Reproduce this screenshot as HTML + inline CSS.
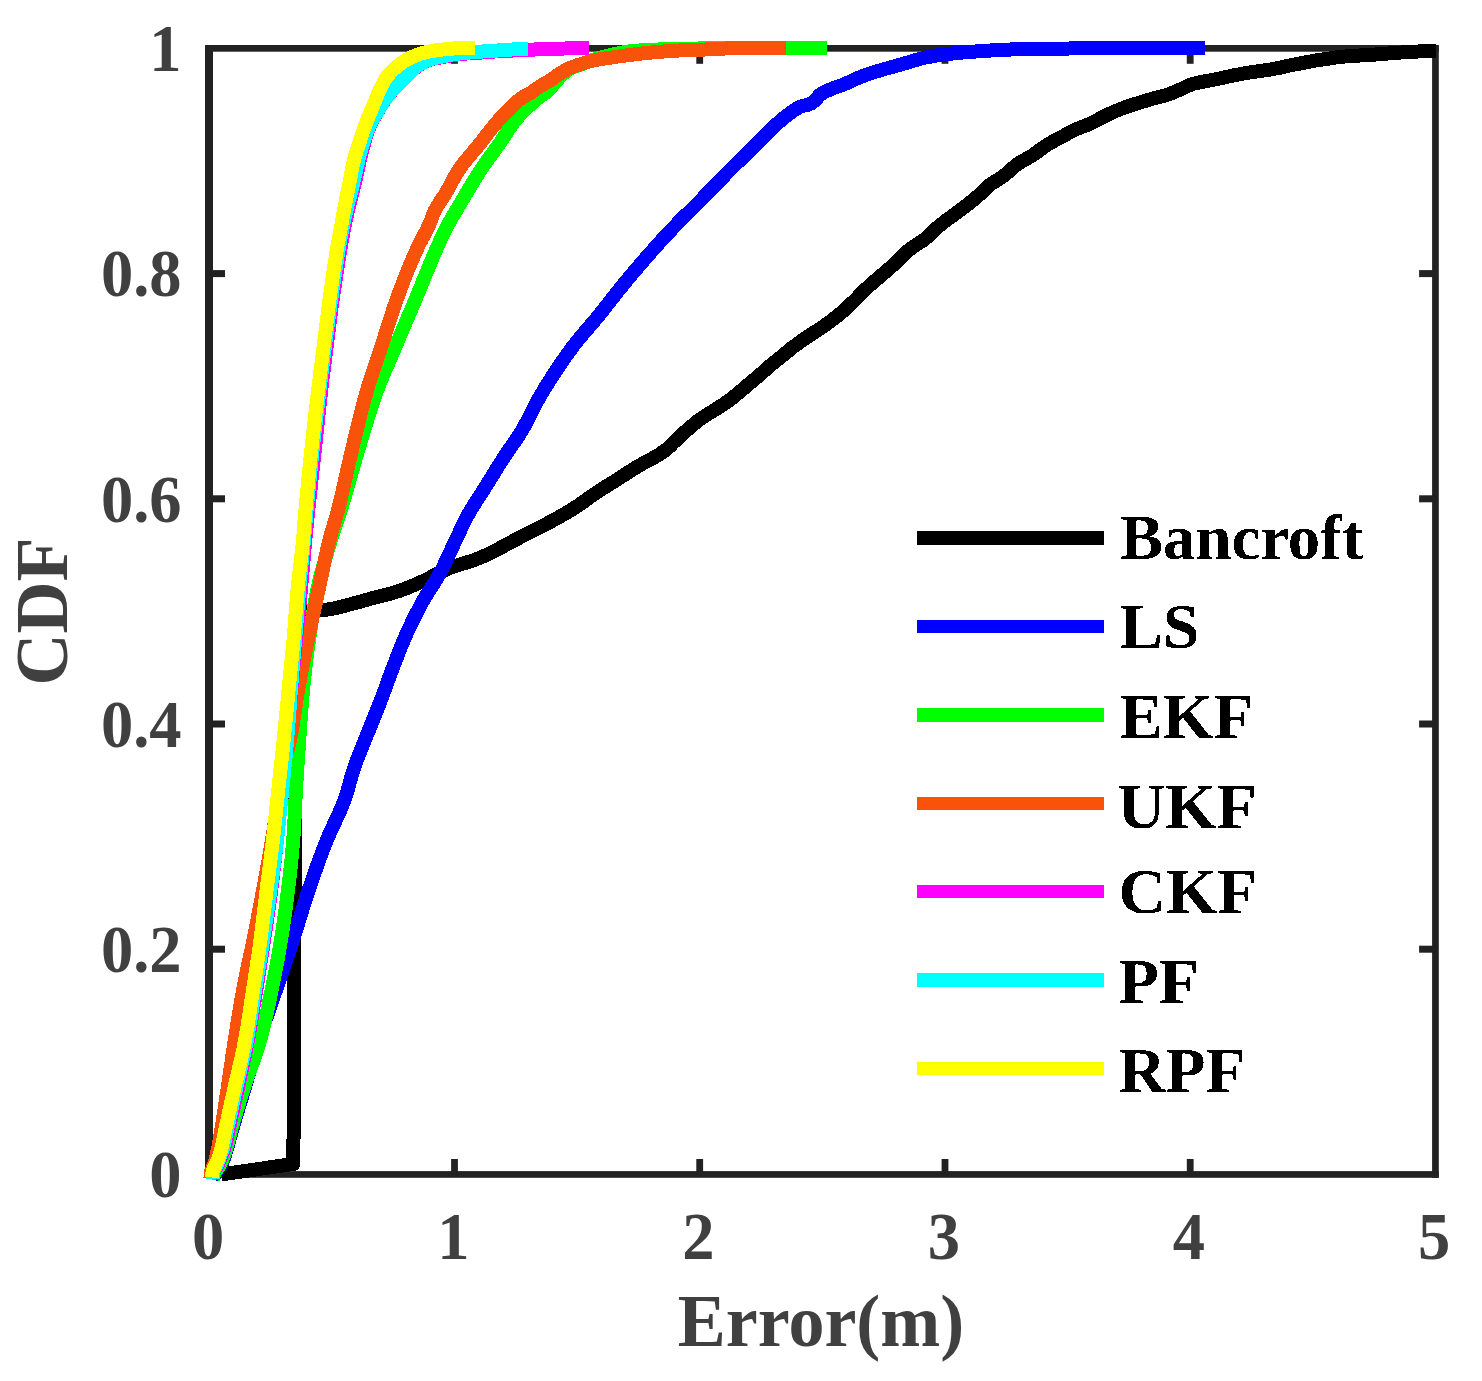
<!DOCTYPE html>
<html lang="en">
<head>
<meta charset="utf-8">
<title>CDF of positioning error</title>
<style>
html,body{margin:0;padding:0;background:#ffffff;}
body{width:1482px;height:1381px;overflow:hidden;font-family:"Liberation Serif","Times New Roman",serif;}
svg{display:block;}
</style>
</head>
<body>
<svg width="1482" height="1381" viewBox="0 0 1482 1381">
<rect width="1482" height="1381" fill="#ffffff"/>
<g id="axes">
<rect x="205" y="45" width="8" height="1132.8" fill="#222222"/>
<rect x="205" y="45" width="1233.8" height="6.7" fill="#222222"/>
<rect x="1432.1" y="45" width="6.7" height="1132.8" fill="#222222"/>
<rect x="205" y="1171.1" width="1233.8" height="6.7" fill="#222222"/>
<rect x="451.1" y="1159.0" width="6.8" height="15.4" fill="#222222"/>
<rect x="451.1" y="48.4" width="6.8" height="15.4" fill="#222222"/>
<rect x="696.3" y="1159.0" width="6.8" height="15.4" fill="#222222"/>
<rect x="696.3" y="48.4" width="6.8" height="15.4" fill="#222222"/>
<rect x="941.6" y="1159.0" width="6.8" height="15.4" fill="#222222"/>
<rect x="941.6" y="48.4" width="6.8" height="15.4" fill="#222222"/>
<rect x="1186.8" y="1159.0" width="6.8" height="15.4" fill="#222222"/>
<rect x="1186.8" y="48.4" width="6.8" height="15.4" fill="#222222"/>
<rect x="209.3" y="945.7" width="15.7" height="7" fill="#222222"/>
<rect x="1419.1" y="945.7" width="16.3" height="7" fill="#222222"/>
<rect x="209.3" y="720.5" width="15.7" height="7" fill="#222222"/>
<rect x="1419.1" y="720.5" width="16.3" height="7" fill="#222222"/>
<rect x="209.3" y="495.3" width="15.7" height="7" fill="#222222"/>
<rect x="1419.1" y="495.3" width="16.3" height="7" fill="#222222"/>
<rect x="209.3" y="270.1" width="15.7" height="7" fill="#222222"/>
<rect x="1419.1" y="270.1" width="16.3" height="7" fill="#222222"/>
</g>
<g id="curves" fill="none" stroke-width="14.0" stroke-linejoin="round" stroke-linecap="butt" shape-rendering="crispEdges">
<path d="M221.0,1174.4 L293.4,1164.0 L294.5,940.0 L295.6,611.5 L299.6,611.5 L303.7,611.3 L307.7,611.1 L311.7,610.9 L315.7,610.6 L319.7,610.3 L323.7,609.9 L327.6,609.5 L331.6,608.8 L335.5,608.1 L339.5,607.2 L343.4,606.2 L347.3,605.1 L351.2,604.1 L355.1,603.0 L359.0,602.0 L362.9,600.9 L366.7,599.8 L370.6,598.6 L374.5,597.6 L378.4,596.6 L382.3,595.7 L386.2,594.7 L390.1,593.7 L393.9,592.6 L397.8,591.4 L401.6,590.1 L405.3,588.7 L409.1,587.2 L412.8,585.6 L416.5,584.0 L420.2,582.4 L423.8,580.8 L427.4,579.0 L431.0,577.1 L434.6,575.2 L438.1,573.4 L441.7,571.6 L445.4,569.9 L449.0,568.3 L452.8,566.9 L456.6,565.6 L460.4,564.4 L464.3,563.2 L468.1,562.0 L472.0,560.8 L475.8,559.4 L479.5,558.0 L483.1,556.4 L486.8,554.7 L490.4,553.0 L494.0,551.2 L497.6,549.4 L501.1,547.5 L504.7,545.6 L508.3,543.7 L511.8,541.7 L515.4,539.8 L518.9,538.0 L522.5,536.1 L526.1,534.3 L529.7,532.5 L533.3,530.6 L536.9,528.8 L540.4,527.0 L544.0,525.1 L547.6,523.3 L551.2,521.4 L554.7,519.5 L558.2,517.6 L561.7,515.6 L565.2,513.6 L568.7,511.6 L572.1,509.5 L575.4,507.3 L578.8,505.1 L582.1,502.8 L585.3,500.5 L588.6,498.1 L591.9,495.8 L595.2,493.5 L598.6,491.2 L601.9,489.1 L605.3,486.9 L608.8,484.8 L612.2,482.7 L615.6,480.6 L619.0,478.4 L622.3,476.2 L625.7,474.0 L629.1,471.8 L632.5,469.7 L635.9,467.6 L639.4,465.6 L642.8,463.5 L646.4,461.6 L649.9,459.7 L653.5,457.8 L657.0,455.9 L660.4,453.7 L663.7,451.4 L666.9,449.0 L669.9,446.3 L672.7,443.4 L675.6,440.6 L678.5,437.9 L681.4,435.1 L684.4,432.4 L687.4,429.8 L690.4,427.1 L693.5,424.5 L696.6,421.9 L699.8,419.5 L703.1,417.2 L706.4,415.0 L709.9,412.9 L713.3,410.8 L716.7,408.7 L720.1,406.5 L723.5,404.3 L726.8,402.0 L730.1,399.7 L733.2,397.2 L736.3,394.7 L739.4,392.1 L742.5,389.5 L745.5,386.9 L748.6,384.3 L751.7,381.7 L754.8,379.1 L757.8,376.5 L760.9,373.9 L763.9,371.2 L766.9,368.5 L769.9,365.9 L773.0,363.3 L776.1,360.8 L779.3,358.3 L782.4,355.8 L785.5,353.3 L788.6,350.7 L791.7,348.1 L794.9,345.7 L798.2,343.3 L801.4,341.0 L804.7,338.7 L808.1,336.4 L811.4,334.2 L814.8,332.0 L818.2,329.9 L821.6,327.7 L824.9,325.4 L828.1,323.0 L831.4,320.6 L834.5,318.2 L837.7,315.7 L840.8,313.1 L843.8,310.5 L846.8,307.8 L849.7,305.0 L852.6,302.3 L855.5,299.5 L858.3,296.6 L861.1,293.7 L864.0,290.8 L866.9,288.0 L869.8,285.3 L872.8,282.7 L875.9,280.1 L878.9,277.4 L882.0,274.8 L885.0,272.2 L888.1,269.6 L891.1,266.9 L894.1,264.3 L897.1,261.6 L900.0,258.8 L902.8,255.9 L905.7,253.0 L908.6,250.3 L911.7,247.8 L915.0,245.6 L918.5,243.4 L921.9,241.2 L925.1,238.9 L928.1,236.3 L931.1,233.5 L933.9,230.7 L936.9,227.9 L939.9,225.3 L943.1,222.8 L946.3,220.4 L949.5,218.0 L952.8,215.7 L956.0,213.3 L959.2,210.9 L962.5,208.5 L965.7,206.0 L968.8,203.6 L972.0,201.0 L975.1,198.5 L978.1,195.9 L981.1,193.2 L983.9,190.3 L986.8,187.4 L989.8,184.9 L993.1,182.6 L996.6,180.5 L1000.0,178.4 L1003.3,176.1 L1006.5,173.6 L1009.5,170.9 L1012.5,168.2 L1015.5,165.6 L1018.7,163.2 L1022.2,161.2 L1025.7,159.2 L1029.2,157.3 L1032.7,155.2 L1036.0,152.9 L1039.2,150.5 L1042.4,148.1 L1045.7,145.8 L1049.1,143.7 L1052.6,141.7 L1056.2,139.8 L1059.7,137.9 L1063.3,136.0 L1066.8,134.1 L1070.3,132.2 L1073.9,130.3 L1077.6,128.7 L1081.3,127.2 L1085.1,125.8 L1088.8,124.3 L1092.4,122.6 L1096.0,120.7 L1099.5,118.8 L1103.1,116.9 L1106.7,115.1 L1110.3,113.4 L1114.0,111.7 L1117.7,110.2 L1121.4,108.7 L1125.2,107.3 L1129.0,106.0 L1132.8,104.7 L1136.6,103.5 L1140.5,102.4 L1144.3,101.2 L1148.2,100.0 L1152.0,98.8 L1155.9,97.8 L1159.8,96.8 L1163.7,95.8 L1167.5,94.6 L1171.3,93.3 L1175.0,91.7 L1178.7,90.1 L1182.4,88.6 L1186.1,86.8 L1189.8,85.1 L1193.5,83.7 L1197.4,82.8 L1201.3,82.0 L1205.3,81.3 L1209.2,80.6 L1213.2,79.8 L1217.1,79.0 L1221.1,78.2 L1225.0,77.3 L1228.9,76.4 L1232.8,75.5 L1236.8,74.8 L1240.7,74.0 L1244.7,73.3 L1248.7,72.7 L1252.6,72.1 L1256.6,71.5 L1260.6,70.9 L1264.6,70.3 L1268.5,69.8 L1272.5,69.1 L1276.5,68.4 L1280.4,67.6 L1284.3,66.7 L1288.2,65.8 L1292.2,65.0 L1296.1,64.2 L1300.1,63.5 L1304.0,62.7 L1308.0,61.9 L1311.9,61.2 L1315.9,60.5 L1319.9,59.9 L1323.8,59.3 L1327.8,58.8 L1331.8,58.2 L1335.8,57.5 L1339.7,57.0 L1343.7,56.6 L1347.7,56.3 L1351.7,56.0 L1355.8,55.7 L1359.8,55.5 L1363.8,55.3 L1367.8,55.0 L1371.8,54.7 L1375.8,54.5 L1379.8,54.2 L1383.8,53.9 L1387.9,53.5 L1391.9,53.2 L1395.9,52.9 L1399.9,52.6 L1403.9,52.3 L1407.9,52.1 L1411.9,51.8 L1415.9,51.6 L1419.9,51.4 L1423.9,51.2 L1428.0,51.0 L1432.0,50.9 L1436.0,50.7" stroke="#000000" stroke-linejoin="round"/>
<path d="M213.2,1179.8 L214.1,1175.9 L215.8,1172.3 L218.3,1169.1 L220.7,1165.9 L222.4,1162.3 L223.8,1158.5 L225.1,1154.7 L226.3,1150.9 L227.5,1147.0 L228.6,1143.2 L229.6,1139.3 L230.6,1135.4 L231.7,1131.5 L232.8,1127.7 L233.9,1123.8 L235.0,1120.0 L236.2,1116.1 L237.3,1112.3 L238.5,1108.5 L239.7,1104.6 L240.8,1100.8 L242.0,1097.0 L243.2,1093.1 L244.3,1089.3 L245.5,1085.4 L246.6,1081.6 L247.7,1077.7 L248.8,1073.9 L250.0,1070.0 L251.1,1066.2 L252.2,1062.3 L253.3,1058.5 L254.5,1054.7 L255.6,1050.8 L256.8,1047.0 L258.0,1043.2 L259.2,1039.3 L260.4,1035.5 L261.7,1031.7 L263.0,1027.9 L264.2,1024.1 L265.5,1020.3 L266.8,1016.5 L268.1,1012.7 L269.5,1008.9 L270.8,1005.2 L272.1,1001.4 L273.4,997.6 L274.7,993.8 L276.0,990.0 L277.3,986.2 L278.6,982.4 L279.9,978.6 L281.2,974.8 L282.5,971.0 L283.8,967.2 L285.1,963.4 L286.4,959.6 L287.7,955.8 L289.0,952.0 L290.3,948.2 L291.5,944.4 L292.8,940.6 L294.0,936.8 L295.2,933.0 L296.4,929.2 L297.6,925.3 L298.8,921.5 L300.0,917.7 L301.1,913.8 L302.3,910.0 L303.5,906.2 L304.7,902.3 L305.9,898.5 L307.1,894.7 L308.4,890.9 L309.7,887.1 L311.0,883.3 L312.3,879.5 L313.6,875.7 L314.9,871.9 L316.3,868.2 L317.6,864.4 L319.0,860.6 L320.4,856.9 L321.8,853.1 L323.2,849.4 L324.7,845.6 L326.1,841.9 L327.6,838.2 L329.2,834.5 L330.9,830.8 L332.5,827.2 L334.3,823.5 L336.0,819.9 L337.7,816.3 L339.3,812.6 L341.0,808.9 L342.5,805.2 L343.9,801.5 L345.3,797.8 L346.5,794.0 L347.7,790.1 L348.8,786.3 L349.8,782.4 L350.9,778.5 L352.0,774.7 L353.2,770.8 L354.4,767.0 L355.8,763.2 L357.1,759.5 L358.6,755.7 L360.1,752.0 L361.6,748.3 L363.1,744.6 L364.6,740.8 L366.1,737.1 L367.6,733.4 L369.1,729.7 L370.6,726.0 L372.1,722.2 L373.6,718.5 L375.1,714.8 L376.6,711.1 L378.1,707.4 L379.6,703.6 L381.0,699.9 L382.4,696.1 L383.8,692.4 L385.2,688.6 L386.6,684.9 L387.9,681.1 L389.3,677.3 L390.7,673.5 L392.1,669.8 L393.5,666.0 L395.0,662.3 L396.4,658.6 L397.9,654.8 L399.3,651.1 L400.8,647.4 L402.3,643.7 L403.9,640.0 L405.5,636.3 L407.1,632.6 L408.8,629.0 L410.5,625.3 L412.2,621.7 L414.0,618.1 L415.8,614.5 L417.6,611.0 L419.5,607.4 L421.4,603.9 L423.3,600.4 L425.3,596.9 L427.4,593.5 L429.6,590.1 L431.7,586.7 L433.9,583.3 L436.0,579.9 L438.1,576.5 L440.0,573.0 L441.9,569.5 L443.7,565.9 L445.4,562.3 L447.1,558.6 L448.8,555.0 L450.5,551.3 L452.2,547.7 L453.9,544.1 L455.6,540.5 L457.3,536.8 L459.0,533.2 L460.7,529.5 L462.4,525.9 L464.1,522.3 L465.9,518.7 L467.8,515.2 L469.8,511.7 L471.8,508.3 L473.9,504.9 L476.1,501.5 L478.3,498.1 L480.5,494.7 L482.7,491.4 L484.8,488.0 L486.9,484.6 L489.1,481.2 L491.2,477.8 L493.3,474.3 L495.4,470.9 L497.5,467.5 L499.6,464.1 L501.8,460.7 L503.9,457.4 L506.2,454.0 L508.4,450.7 L510.7,447.4 L513.0,444.1 L515.3,440.8 L517.5,437.5 L519.7,434.1 L521.8,430.7 L523.8,427.3 L525.7,423.7 L527.6,420.2 L529.4,416.6 L531.2,413.0 L533.0,409.4 L534.8,405.8 L536.7,402.3 L538.6,398.8 L540.6,395.3 L542.7,391.9 L544.7,388.4 L546.8,385.0 L549.0,381.6 L551.1,378.2 L553.3,374.9 L555.5,371.5 L557.7,368.2 L560.0,364.8 L562.2,361.5 L564.5,358.2 L566.8,354.9 L569.2,351.7 L571.5,348.5 L573.9,345.3 L576.4,342.1 L578.9,339.0 L581.5,335.9 L584.1,332.8 L586.7,329.8 L589.3,326.8 L591.9,323.7 L594.5,320.7 L597.1,317.6 L599.6,314.5 L602.1,311.4 L604.6,308.2 L607.1,305.0 L609.6,301.9 L612.0,298.7 L614.5,295.6 L617.0,292.4 L619.5,289.3 L622.0,286.2 L624.6,283.1 L627.1,280.0 L629.7,276.9 L632.3,273.8 L634.9,270.8 L637.5,267.7 L640.1,264.7 L642.7,261.7 L645.3,258.6 L648.0,255.6 L650.6,252.6 L653.3,249.6 L656.0,246.6 L658.6,243.6 L661.3,240.6 L664.0,237.7 L666.7,234.7 L669.5,231.8 L672.2,228.9 L675.0,226.0 L677.8,223.1 L680.6,220.3 L683.5,217.4 L686.3,214.6 L689.2,211.8 L692.0,209.0 L694.9,206.2 L697.7,203.3 L700.5,200.5 L703.3,197.6 L706.1,194.7 L708.9,191.9 L711.7,189.0 L714.5,186.1 L717.2,183.2 L720.0,180.3 L722.8,177.4 L725.6,174.5 L728.4,171.7 L731.3,168.8 L734.1,166.0 L736.9,163.2 L739.8,160.4 L742.7,157.6 L745.5,154.8 L748.4,152.0 L751.3,149.2 L754.2,146.4 L757.1,143.6 L759.9,140.8 L762.8,138.0 L765.6,135.1 L768.5,132.3 L771.3,129.4 L774.2,126.6 L777.1,123.8 L780.1,121.2 L783.1,118.6 L786.2,116.1 L789.4,113.7 L792.7,111.2 L796.1,109.0 L799.6,107.1 L803.3,105.7 L807.3,104.9 L811.0,103.6 L814.1,101.1 L817.0,98.2 L819.6,95.1 L822.8,92.9 L826.5,91.1 L830.2,89.5 L833.9,88.0 L837.7,86.7 L841.5,85.3 L845.2,83.8 L848.9,82.2 L852.5,80.5 L856.1,78.8 L859.8,77.2 L863.6,75.8 L867.3,74.4 L871.1,73.2 L875.0,71.9 L878.8,70.8 L882.6,69.6 L886.5,68.5 L890.4,67.5 L894.2,66.4 L898.1,65.3 L901.9,64.2 L905.8,63.1 L909.6,61.9 L913.5,60.7 L917.3,59.6 L921.2,58.6 L925.1,57.6 L929.0,56.9 L933.0,56.2 L936.9,55.5 L940.9,54.9 L944.9,54.4 L948.9,53.9 L952.8,53.5 L956.8,53.1 L960.8,52.7 L964.8,52.3 L968.8,52.0 L972.8,51.7 L976.8,51.4 L980.8,51.1 L984.8,50.9 L988.8,50.6 L992.8,50.4 L996.8,50.2 L1000.8,49.9 L1004.8,49.7 L1008.8,49.6 L1012.8,49.4 L1016.9,49.3 L1020.9,49.1 L1024.9,49.1 L1028.9,49.0 L1032.9,48.9 L1036.9,48.9 L1040.9,48.8 L1044.9,48.7 L1048.9,48.7 L1052.9,48.7 L1056.9,48.6 L1061.0,48.6 L1065.0,48.5 L1069.0,48.5 L1073.0,48.4 L1077.0,48.4 L1081.0,48.3 L1085.0,48.3 L1089.0,48.2 L1093.0,48.2 L1097.0,48.1 L1101.0,48.1 L1105.1,48.0 L1109.1,48.0 L1113.1,48.0 L1117.1,47.9 L1121.1,47.9 L1125.1,47.9 L1129.1,47.9 L1133.1,47.9 L1137.1,47.9 L1141.1,47.9 L1145.2,47.9 L1149.2,47.9 L1153.2,47.9 L1157.2,47.9 L1161.2,47.9 L1165.2,47.9 L1169.2,47.9 L1173.2,47.9 L1177.2,47.9 L1181.2,47.9 L1185.3,47.9 L1189.3,47.9 L1193.3,47.9 L1197.3,47.9 L1201.3,47.9 L1205.3,47.9" stroke="#0000ff"/>
<path d="M212.8,1179.6 L213.5,1175.6 L214.9,1172.0 L217.4,1168.7 L219.6,1165.3 L221.3,1161.7 L222.9,1158.0 L224.3,1154.2 L225.6,1150.4 L226.7,1146.6 L227.8,1142.7 L228.8,1138.8 L229.8,1134.9 L230.8,1131.0 L231.9,1127.1 L233.0,1123.3 L234.1,1119.4 L235.3,1115.6 L236.4,1111.7 L237.6,1107.9 L238.7,1104.0 L239.9,1100.2 L241.1,1096.3 L242.3,1092.5 L243.5,1088.7 L244.8,1084.9 L246.1,1081.1 L247.5,1077.3 L248.8,1073.5 L250.2,1069.7 L251.6,1065.9 L253.0,1062.1 L254.3,1058.4 L255.7,1054.6 L256.9,1050.8 L258.2,1046.9 L259.3,1043.1 L260.4,1039.3 L261.4,1035.4 L262.4,1031.5 L263.4,1027.6 L264.3,1023.7 L265.2,1019.8 L266.1,1015.9 L267.0,1011.9 L267.8,1008.0 L268.7,1004.1 L269.5,1000.1 L270.3,996.2 L271.1,992.3 L271.9,988.3 L272.8,984.4 L273.5,980.4 L274.3,976.5 L275.1,972.6 L275.9,968.6 L276.6,964.7 L277.4,960.7 L278.1,956.8 L278.8,952.8 L279.5,948.9 L280.2,944.9 L280.8,940.9 L281.5,937.0 L282.1,933.0 L282.7,929.0 L283.3,925.1 L283.9,921.1 L284.5,917.1 L285.0,913.1 L285.6,909.1 L286.1,905.2 L286.6,901.2 L287.1,897.2 L287.6,893.2 L288.1,889.2 L288.6,885.2 L289.0,881.2 L289.5,877.3 L290.0,873.3 L290.4,869.3 L290.9,865.3 L291.3,861.3 L291.7,857.3 L292.1,853.3 L292.4,849.3 L292.8,845.3 L293.1,841.3 L293.4,837.3 L293.7,833.3 L293.9,829.3 L294.1,825.2 L294.4,821.2 L294.6,817.2 L294.8,813.2 L295.0,809.2 L295.2,805.2 L295.4,801.2 L295.6,797.2 L295.8,793.1 L296.1,789.1 L296.3,785.1 L296.5,781.1 L296.8,777.1 L297.0,773.1 L297.3,769.1 L297.5,765.1 L297.8,761.1 L298.1,757.1 L298.3,753.0 L298.6,749.0 L298.9,745.0 L299.1,741.0 L299.4,737.0 L299.7,733.0 L300.0,729.0 L300.2,725.0 L300.5,721.0 L300.8,717.0 L301.1,713.0 L301.4,709.0 L301.7,705.0 L302.0,701.0 L302.4,696.9 L302.7,692.9 L303.1,689.0 L303.5,685.0 L303.9,681.0 L304.3,677.0 L304.8,673.0 L305.2,669.0 L305.7,665.0 L306.2,661.0 L306.7,657.0 L307.2,653.0 L307.8,649.0 L308.3,645.1 L308.8,641.1 L309.4,637.1 L310.0,633.1 L310.5,629.2 L311.1,625.2 L311.7,621.2 L312.4,617.2 L313.0,613.2 L313.7,609.3 L314.4,605.3 L315.1,601.4 L315.8,597.4 L316.6,593.5 L317.4,589.6 L318.2,585.7 L319.1,581.7 L320.1,577.8 L321.1,574.0 L322.1,570.1 L323.2,566.2 L324.3,562.3 L325.4,558.4 L326.5,554.6 L327.7,550.7 L328.8,546.9 L330.0,543.0 L331.1,539.2 L332.3,535.4 L333.6,531.5 L334.9,527.7 L336.2,523.9 L337.5,520.1 L338.8,516.3 L340.0,512.5 L341.2,508.7 L342.4,504.8 L343.5,501.0 L344.7,497.1 L345.8,493.3 L346.9,489.4 L348.0,485.5 L349.1,481.7 L350.2,477.8 L351.3,473.9 L352.4,470.1 L353.5,466.2 L354.6,462.3 L355.7,458.5 L356.8,454.6 L358.0,450.8 L359.1,446.9 L360.3,443.1 L361.4,439.2 L362.6,435.4 L363.8,431.5 L364.9,427.7 L366.1,423.8 L367.3,420.0 L368.5,416.2 L369.7,412.3 L370.9,408.5 L372.2,404.7 L373.5,400.9 L374.8,397.1 L376.1,393.3 L377.5,389.5 L378.9,385.8 L380.3,382.0 L381.9,378.3 L383.4,374.6 L385.0,370.9 L386.6,367.2 L388.2,363.5 L389.8,359.8 L391.4,356.2 L393.0,352.5 L394.5,348.8 L396.1,345.1 L397.7,341.4 L399.2,337.7 L400.8,334.0 L402.4,330.3 L404.0,326.6 L405.6,322.9 L407.1,319.2 L408.7,315.5 L410.3,311.8 L411.9,308.1 L413.4,304.4 L415.0,300.7 L416.5,297.0 L418.1,293.3 L419.6,289.6 L421.1,285.9 L422.6,282.1 L424.1,278.4 L425.6,274.7 L427.2,271.0 L428.7,267.2 L430.2,263.5 L431.8,259.8 L433.3,256.1 L434.9,252.4 L436.5,248.8 L438.2,245.1 L439.8,241.4 L441.5,237.8 L443.2,234.1 L445.0,230.5 L446.8,227.0 L448.7,223.4 L450.7,219.9 L452.7,216.5 L454.7,213.0 L456.8,209.5 L458.8,206.1 L460.9,202.6 L462.9,199.2 L465.0,195.7 L467.0,192.2 L469.0,188.8 L471.1,185.3 L473.2,181.9 L475.3,178.5 L477.4,175.1 L479.6,171.7 L481.8,168.3 L484.1,165.0 L486.4,161.7 L488.7,158.5 L491.1,155.2 L493.5,152.0 L495.8,148.7 L498.2,145.4 L500.5,142.2 L502.7,138.8 L504.9,135.4 L507.1,132.0 L509.3,128.7 L511.6,125.4 L513.9,122.1 L516.4,119.1 L519.1,116.0 L521.8,113.1 L524.7,110.2 L527.6,107.4 L530.5,104.7 L533.5,102.0 L536.6,99.4 L539.7,96.9 L543.0,94.6 L546.3,92.2 L549.2,89.5 L551.9,86.5 L554.4,83.4 L557.0,80.3 L559.7,77.3 L562.5,74.5 L565.6,71.8 L568.8,69.4 L572.3,67.5 L576.1,66.1 L579.9,64.8 L583.7,63.4 L587.4,62.0 L591.2,60.6 L595.0,59.3 L598.8,58.1 L602.7,57.0 L606.6,56.0 L610.5,55.0 L614.4,54.1 L618.3,53.3 L622.3,52.5 L626.3,51.9 L630.2,51.3 L634.2,50.9 L638.2,50.6 L642.2,50.3 L646.2,50.1 L650.3,49.9 L654.3,49.7 L658.3,49.5 L662.3,49.4 L666.3,49.3 L670.3,49.1 L674.4,49.0 L678.4,48.9 L682.4,48.8 L686.4,48.7 L690.4,48.6 L694.4,48.5 L698.5,48.5 L702.5,48.4 L706.5,48.3 L710.5,48.2 L714.5,48.2 L718.5,48.1 L722.6,48.1 L726.6,48.0 L730.6,48.0 L734.6,48.0 L738.6,48.0 L742.6,47.9 L746.7,47.9 L750.7,47.9 L754.7,47.9 L758.7,47.9 L762.7,47.9 L766.7,47.9 L770.8,47.9 L774.8,47.9 L778.8,47.9 L782.8,47.9 L786.8,47.9 L790.8,47.9 L794.9,47.9 L798.9,47.9 L802.9,47.9 L806.9,47.9 L810.9,47.9 L814.9,47.9 L819.0,47.9 L823.0,47.9 L827.0,47.9" stroke="#00ff00"/>
<path d="M210.4,1178.6 L210.7,1174.6 L211.4,1170.7 L213.0,1166.9 L214.5,1163.2 L215.6,1159.3 L216.6,1155.4 L217.4,1151.5 L218.3,1147.6 L219.0,1143.6 L219.7,1139.7 L220.4,1135.7 L221.0,1131.7 L221.7,1127.8 L222.3,1123.8 L222.9,1119.8 L223.5,1115.9 L224.1,1111.9 L224.7,1107.9 L225.3,1104.0 L225.9,1100.0 L226.5,1096.0 L227.1,1092.0 L227.7,1088.1 L228.3,1084.1 L228.9,1080.1 L229.4,1076.1 L230.0,1072.2 L230.6,1068.2 L231.2,1064.2 L231.8,1060.2 L232.3,1056.3 L232.9,1052.3 L233.5,1048.3 L234.1,1044.3 L234.7,1040.4 L235.4,1036.4 L236.0,1032.4 L236.6,1028.5 L237.2,1024.5 L237.9,1020.5 L238.5,1016.6 L239.2,1012.6 L239.8,1008.6 L240.5,1004.7 L241.2,1000.7 L241.9,996.7 L242.6,992.8 L243.3,988.8 L244.1,984.9 L244.8,981.0 L245.6,977.0 L246.4,973.1 L247.3,969.1 L248.1,965.2 L248.9,961.3 L249.8,957.4 L250.6,953.4 L251.5,949.5 L252.3,945.6 L253.1,941.6 L253.9,937.7 L254.6,933.7 L255.4,929.8 L256.2,925.9 L257.0,921.9 L257.8,918.0 L258.5,914.0 L259.3,910.1 L260.1,906.1 L260.8,902.2 L261.6,898.3 L262.3,894.3 L263.0,890.4 L263.8,886.4 L264.5,882.5 L265.2,878.5 L265.9,874.5 L266.7,870.6 L267.4,866.6 L268.1,862.7 L268.8,858.7 L269.5,854.8 L270.2,850.8 L270.8,846.9 L271.5,842.9 L272.2,838.9 L272.8,835.0 L273.4,831.0 L274.0,827.0 L274.6,823.0 L275.2,819.0 L275.7,815.1 L276.3,811.1 L276.8,807.1 L277.4,803.1 L277.9,799.1 L278.5,795.1 L279.1,791.2 L279.7,787.2 L280.3,783.2 L281.0,779.3 L281.7,775.3 L282.4,771.4 L283.1,767.4 L283.9,763.5 L284.9,759.6 L285.9,755.7 L287.0,751.9 L288.1,748.0 L289.1,744.1 L290.0,740.2 L290.7,736.2 L291.5,732.3 L292.1,728.3 L292.8,724.4 L293.4,720.4 L294.0,716.4 L294.6,712.4 L295.2,708.5 L295.8,704.5 L296.4,700.5 L297.0,696.5 L297.7,692.6 L298.3,688.6 L299.1,684.7 L299.8,680.7 L300.5,676.8 L301.3,672.8 L302.0,668.9 L302.8,664.9 L303.6,661.0 L304.4,657.0 L305.1,653.1 L305.9,649.2 L306.7,645.2 L307.5,641.3 L308.3,637.3 L309.2,633.4 L310.0,629.5 L310.8,625.6 L311.6,621.6 L312.5,617.7 L313.3,613.8 L314.2,609.8 L315.0,605.9 L315.9,602.0 L316.7,598.1 L317.6,594.1 L318.5,590.2 L319.3,586.3 L320.1,582.3 L321.0,578.4 L321.8,574.5 L322.6,570.5 L323.4,566.6 L324.3,562.7 L325.1,558.8 L326.0,554.8 L326.9,550.9 L327.8,547.0 L328.7,543.1 L329.7,539.2 L330.7,535.3 L331.8,531.5 L332.9,527.6 L334.1,523.7 L335.2,519.9 L336.4,516.0 L337.4,512.2 L338.4,508.3 L339.4,504.4 L340.4,500.5 L341.3,496.6 L342.2,492.7 L343.1,488.7 L344.0,484.8 L344.9,480.9 L345.7,477.0 L346.6,473.1 L347.5,469.1 L348.4,465.2 L349.3,461.3 L350.2,457.4 L351.1,453.5 L352.0,449.6 L353.0,445.6 L353.9,441.7 L354.8,437.8 L355.8,433.9 L356.7,430.0 L357.7,426.1 L358.6,422.2 L359.6,418.3 L360.5,414.4 L361.5,410.5 L362.5,406.6 L363.6,402.7 L364.6,398.8 L365.7,395.0 L366.8,391.1 L367.9,387.3 L369.1,383.4 L370.3,379.6 L371.6,375.8 L372.8,372.0 L374.1,368.2 L375.4,364.4 L376.7,360.6 L378.0,356.8 L379.3,353.0 L380.6,349.1 L381.8,345.3 L383.0,341.5 L384.2,337.7 L385.4,333.8 L386.6,330.0 L387.8,326.1 L389.1,322.3 L390.3,318.5 L391.5,314.7 L392.8,310.8 L394.0,307.0 L395.4,303.2 L396.7,299.5 L398.1,295.7 L399.4,291.9 L400.9,288.2 L402.3,284.4 L403.7,280.6 L405.2,276.9 L406.7,273.2 L408.2,269.4 L409.7,265.7 L411.3,262.0 L412.9,258.3 L414.5,254.6 L416.1,251.0 L417.7,247.3 L419.5,243.7 L421.4,240.1 L423.2,236.5 L425.1,233.0 L426.9,229.4 L428.7,225.8 L430.3,222.1 L431.8,218.4 L433.0,214.6 L434.6,210.9 L436.5,207.4 L438.6,204.0 L440.8,200.6 L443.1,197.3 L445.3,193.9 L447.3,190.4 L449.3,186.9 L451.2,183.3 L453.1,179.7 L455.0,176.2 L457.0,172.8 L459.2,169.4 L461.4,166.1 L463.8,162.9 L466.4,159.8 L469.0,156.7 L471.6,153.6 L474.2,150.6 L476.8,147.5 L479.3,144.4 L481.8,141.2 L484.3,138.0 L486.7,134.8 L489.2,131.6 L491.7,128.5 L494.2,125.4 L496.8,122.3 L499.4,119.3 L502.2,116.4 L505.0,113.5 L507.9,110.7 L510.7,107.9 L513.6,105.0 L516.5,102.2 L519.5,99.5 L522.7,97.2 L526.3,95.3 L529.8,93.4 L533.2,91.2 L536.4,88.8 L539.7,86.5 L543.1,84.4 L546.7,82.5 L550.1,80.4 L553.4,78.2 L556.7,75.8 L560.0,73.5 L563.4,71.4 L566.9,69.4 L570.5,67.7 L574.3,66.3 L578.1,65.0 L581.9,63.8 L585.8,62.5 L589.6,61.4 L593.5,60.5 L597.5,59.7 L601.4,59.0 L605.4,58.4 L609.4,57.8 L613.3,57.2 L617.3,56.6 L621.3,56.1 L625.3,55.5 L629.3,55.0 L633.3,54.5 L637.2,54.1 L641.2,53.6 L645.2,53.1 L649.2,52.7 L653.2,52.4 L657.2,52.0 L661.2,51.7 L665.2,51.4 L669.3,51.1 L673.3,50.9 L677.3,50.6 L681.3,50.4 L685.3,50.3 L689.3,50.1 L693.3,49.9 L697.3,49.8 L701.4,49.6 L705.4,49.5 L709.4,49.3 L713.4,49.1 L717.4,48.9 L721.4,48.7 L725.4,48.5 L729.5,48.4 L733.5,48.3 L737.5,48.2 L741.5,48.2 L745.5,48.1 L749.5,48.1 L753.6,48.0 L757.6,48.0 L761.6,48.0 L765.6,48.0 L769.6,47.9 L773.6,47.9 L777.7,47.9 L781.7,47.9 L785.7,47.9" stroke="#f9520b"/>
<path d="M212.7,1179.2 L213.1,1175.1 L214.1,1171.4 L216.1,1167.8 L217.9,1164.2 L219.5,1160.5 L221.1,1156.8 L222.6,1153.1 L223.9,1149.3 L225.1,1145.5 L226.1,1141.6 L227.0,1137.7 L227.8,1133.7 L228.6,1129.8 L229.5,1125.8 L230.4,1121.9 L231.2,1118.0 L232.1,1114.1 L233.0,1110.2 L233.9,1106.2 L234.7,1102.3 L235.6,1098.4 L236.5,1094.5 L237.4,1090.6 L238.2,1086.6 L239.1,1082.7 L239.9,1078.8 L240.7,1074.8 L241.6,1070.9 L242.4,1067.0 L243.2,1063.0 L244.1,1059.1 L244.9,1055.2 L245.8,1051.3 L246.6,1047.3 L247.3,1043.4 L248.1,1039.4 L248.8,1035.5 L249.5,1031.5 L250.1,1027.5 L250.8,1023.6 L251.5,1019.6 L252.1,1015.7 L252.8,1011.7 L253.4,1007.7 L254.0,1003.8 L254.7,999.8 L255.3,995.8 L256.0,991.9 L256.6,987.9 L257.3,983.9 L257.9,980.0 L258.5,976.0 L259.1,972.0 L259.7,968.0 L260.3,964.1 L261.0,960.1 L261.6,956.1 L262.2,952.2 L262.8,948.2 L263.4,944.2 L264.0,940.2 L264.6,936.3 L265.2,932.3 L265.8,928.3 L266.4,924.3 L266.9,920.4 L267.5,916.4 L268.1,912.4 L268.7,908.4 L269.2,904.4 L269.8,900.5 L270.3,896.5 L270.9,892.5 L271.4,888.5 L271.9,884.5 L272.4,880.6 L272.9,876.6 L273.3,872.6 L273.7,868.6 L274.2,864.6 L274.7,860.6 L275.1,856.6 L275.6,852.6 L276.0,848.6 L276.5,844.6 L276.9,840.6 L277.3,836.6 L277.7,832.6 L278.2,828.6 L278.6,824.6 L279.0,820.6 L279.4,816.6 L279.8,812.6 L280.2,808.6 L280.6,804.6 L281.0,800.6 L281.4,796.6 L281.8,792.6 L282.2,788.7 L282.6,784.7 L283.0,780.7 L283.4,776.7 L283.8,772.7 L284.2,768.7 L284.6,764.7 L285.0,760.7 L285.4,756.7 L285.8,752.7 L286.2,748.7 L286.5,744.7 L286.9,740.7 L287.3,736.7 L287.6,732.7 L287.9,728.6 L288.3,724.6 L288.6,720.6 L289.0,716.6 L289.3,712.6 L289.6,708.6 L290.0,704.6 L290.3,700.6 L290.7,696.6 L291.0,692.6 L291.3,688.6 L291.7,684.6 L292.1,680.6 L292.5,676.6 L292.9,672.6 L293.3,668.6 L293.6,664.6 L294.0,660.6 L294.4,656.6 L294.8,652.6 L295.2,648.6 L295.6,644.6 L295.9,640.6 L296.3,636.6 L296.7,632.6 L297.1,628.6 L297.5,624.6 L297.9,620.6 L298.3,616.6 L298.7,612.6 L299.1,608.6 L299.5,604.6 L299.9,600.6 L300.2,596.6 L300.6,592.6 L301.0,588.6 L301.4,584.6 L301.7,580.6 L302.1,576.6 L302.4,572.6 L302.8,568.6 L303.1,564.6 L303.5,560.6 L303.8,556.6 L304.2,552.6 L304.5,548.6 L304.9,544.6 L305.3,540.6 L305.6,536.6 L306.0,532.6 L306.4,528.6 L306.8,524.6 L307.2,520.6 L307.6,516.6 L308.0,512.6 L308.4,508.6 L308.8,504.6 L309.2,500.6 L309.7,496.6 L310.1,492.6 L310.6,488.6 L311.0,484.6 L311.4,480.6 L311.9,476.6 L312.3,472.6 L312.8,468.6 L313.2,464.6 L313.6,460.6 L314.1,456.7 L314.5,452.7 L314.9,448.7 L315.4,444.7 L315.8,440.7 L316.2,436.7 L316.6,432.7 L317.1,428.7 L317.5,424.7 L317.9,420.7 L318.3,416.7 L318.8,412.7 L319.2,408.7 L319.6,404.7 L320.1,400.7 L320.5,396.7 L320.9,392.7 L321.4,388.7 L321.8,384.7 L322.3,380.7 L322.8,376.8 L323.3,372.8 L323.8,368.8 L324.3,364.8 L324.8,360.8 L325.3,356.8 L325.8,352.8 L326.3,348.8 L326.8,344.9 L327.3,340.9 L327.8,336.9 L328.3,332.9 L328.8,328.9 L329.3,324.9 L329.8,320.9 L330.3,317.0 L330.8,313.0 L331.3,309.0 L331.9,305.0 L332.4,301.0 L333.0,297.0 L333.6,293.1 L334.2,289.1 L334.8,285.1 L335.4,281.1 L336.0,277.2 L336.6,273.2 L337.2,269.2 L337.8,265.3 L338.4,261.3 L339.0,257.3 L339.7,253.3 L340.3,249.4 L341.0,245.4 L341.7,241.5 L342.4,237.5 L343.2,233.6 L343.9,229.6 L344.7,225.7 L345.5,221.7 L346.4,217.8 L347.2,213.9 L348.1,210.0 L349.0,206.1 L350.0,202.2 L351.0,198.3 L352.0,194.4 L353.0,190.5 L354.0,186.6 L354.9,182.7 L355.8,178.7 L356.6,174.8 L357.5,170.9 L358.3,166.9 L359.2,163.0 L360.1,159.1 L361.0,155.2 L362.0,151.3 L363.0,147.4 L364.1,143.5 L365.2,139.6 L366.3,135.8 L367.6,132.0 L369.0,128.2 L370.5,124.5 L372.3,121.0 L374.3,117.4 L376.3,113.9 L378.3,110.4 L380.4,107.0 L382.5,103.5 L384.8,100.2 L387.1,97.0 L389.6,93.9 L392.2,90.9 L395.0,87.9 L397.8,85.0 L400.7,82.2 L403.5,79.4 L406.4,76.5 L409.2,73.6 L412.1,70.7 L415.1,68.1 L418.3,65.7 L421.6,63.5 L425.2,61.5 L428.9,60.0 L432.7,58.9 L436.6,58.1 L440.6,57.4 L444.6,56.6 L448.6,55.9 L452.5,55.2 L456.5,54.6 L460.5,54.1 L464.5,53.7 L468.5,53.4 L472.5,53.2 L476.5,52.9 L480.5,52.6 L484.5,52.3 L488.5,52.0 L492.5,51.7 L496.5,51.4 L500.6,51.2 L504.6,50.9 L508.6,50.7 L512.6,50.5 L516.6,50.3 L520.6,50.1 L524.6,49.9 L528.7,49.8 L532.7,49.6 L536.7,49.4 L540.7,49.3 L544.7,49.1 L548.7,49.0 L552.7,48.8 L556.8,48.7 L560.8,48.6 L564.8,48.5 L568.8,48.4 L572.8,48.3 L576.8,48.2 L580.9,48.1 L584.9,48.0 L588.9,47.9" stroke="#ff00ff"/>
<path d="M212.5,1179.0 L212.8,1175.0 L213.6,1171.1 L215.5,1167.5 L217.1,1163.8 L218.6,1160.0 L220.1,1156.3 L221.5,1152.5 L222.8,1148.7 L223.8,1144.9 L224.8,1141.0 L225.6,1137.0 L226.4,1133.1 L227.2,1129.1 L228.0,1125.2 L228.9,1121.3 L229.7,1117.4 L230.6,1113.4 L231.4,1109.5 L232.3,1105.6 L233.2,1101.7 L234.0,1097.7 L234.9,1093.8 L235.7,1089.9 L236.6,1086.0 L237.5,1082.0 L238.4,1078.1 L239.3,1074.2 L240.2,1070.3 L241.1,1066.4 L242.0,1062.5 L242.9,1058.5 L243.8,1054.6 L244.7,1050.7 L245.6,1046.8 L246.4,1042.8 L247.1,1038.9 L247.8,1034.9 L248.5,1031.0 L249.2,1027.0 L249.8,1023.1 L250.5,1019.1 L251.1,1015.1 L251.7,1011.1 L252.4,1007.2 L253.0,1003.2 L253.6,999.2 L254.3,995.3 L254.9,991.3 L255.5,987.3 L256.2,983.4 L256.8,979.4 L257.4,975.4 L258.1,971.5 L258.7,967.5 L259.3,963.5 L260.0,959.6 L260.6,955.6 L261.3,951.6 L261.9,947.7 L262.5,943.7 L263.1,939.7 L263.7,935.7 L264.3,931.8 L264.9,927.8 L265.5,923.8 L266.1,919.9 L266.7,915.9 L267.3,911.9 L267.8,907.9 L268.4,903.9 L269.0,900.0 L269.6,896.0 L270.2,892.0 L270.7,888.0 L271.3,884.1 L271.8,880.1 L272.4,876.1 L272.9,872.1 L273.4,868.1 L273.9,864.1 L274.5,860.2 L275.0,856.2 L275.5,852.2 L276.0,848.2 L276.5,844.2 L277.0,840.2 L277.4,836.2 L277.9,832.2 L278.3,828.2 L278.7,824.2 L279.1,820.3 L279.5,816.3 L279.9,812.3 L280.3,808.3 L280.7,804.3 L281.2,800.3 L281.6,796.3 L282.0,792.3 L282.4,788.3 L282.8,784.3 L283.2,780.3 L283.6,776.3 L284.0,772.3 L284.4,768.3 L284.8,764.3 L285.2,760.3 L285.6,756.3 L286.0,752.3 L286.4,748.3 L286.8,744.3 L287.1,740.3 L287.4,736.3 L287.7,732.3 L288.1,728.3 L288.4,724.3 L288.7,720.3 L289.0,716.2 L289.3,712.2 L289.6,708.2 L289.8,704.2 L290.1,700.2 L290.4,696.2 L290.8,692.2 L291.1,688.2 L291.4,684.2 L291.7,680.2 L292.1,676.2 L292.4,672.2 L292.7,668.2 L293.1,664.2 L293.4,660.2 L293.7,656.2 L294.1,652.2 L294.4,648.2 L294.7,644.1 L295.1,640.1 L295.4,636.1 L295.7,632.1 L296.0,628.1 L296.4,624.1 L296.7,620.1 L297.0,616.1 L297.3,612.1 L297.6,608.1 L298.0,604.1 L298.3,600.1 L298.6,596.1 L299.0,592.1 L299.3,588.1 L299.7,584.1 L300.0,580.1 L300.4,576.1 L300.8,572.1 L301.2,568.1 L301.6,564.1 L302.0,560.1 L302.4,556.1 L302.8,552.1 L303.2,548.1 L303.6,544.1 L304.0,540.1 L304.3,536.1 L304.7,532.1 L305.0,528.1 L305.4,524.1 L305.7,520.1 L306.1,516.1 L306.4,512.1 L306.8,508.1 L307.2,504.1 L307.6,500.1 L308.0,496.1 L308.4,492.1 L308.8,488.1 L309.2,484.1 L309.6,480.1 L310.0,476.1 L310.4,472.1 L310.8,468.1 L311.2,464.1 L311.6,460.1 L312.0,456.1 L312.4,452.1 L312.8,448.1 L313.3,444.1 L313.7,440.1 L314.2,436.1 L314.6,432.1 L315.1,428.1 L315.6,424.1 L316.0,420.1 L316.5,416.2 L316.9,412.2 L317.4,408.2 L317.9,404.2 L318.3,400.2 L318.8,396.2 L319.3,392.2 L319.7,388.2 L320.2,384.2 L320.7,380.2 L321.2,376.2 L321.7,372.3 L322.2,368.3 L322.7,364.3 L323.2,360.3 L323.7,356.3 L324.2,352.3 L324.7,348.3 L325.2,344.4 L325.7,340.4 L326.3,336.4 L326.8,332.4 L327.3,328.4 L327.8,324.4 L328.3,320.4 L328.8,316.5 L329.4,312.5 L329.9,308.5 L330.4,304.5 L331.0,300.5 L331.6,296.6 L332.1,292.6 L332.7,288.6 L333.3,284.6 L333.9,280.6 L334.5,276.7 L335.1,272.7 L335.7,268.7 L336.3,264.8 L336.9,260.8 L337.5,256.8 L338.1,252.8 L338.8,248.9 L339.4,244.9 L340.1,241.0 L340.8,237.0 L341.6,233.0 L342.4,229.1 L343.1,225.2 L344.0,221.2 L344.8,217.3 L345.7,213.4 L346.6,209.5 L347.5,205.6 L348.5,201.6 L349.5,197.8 L350.5,193.9 L351.5,190.0 L352.5,186.1 L353.4,182.2 L354.3,178.3 L355.2,174.3 L356.1,170.4 L356.9,166.5 L357.8,162.5 L358.7,158.6 L359.7,154.7 L360.8,150.9 L361.9,147.0 L363.0,143.2 L364.2,139.3 L365.5,135.5 L366.9,131.7 L368.4,128.0 L370.0,124.4 L371.9,120.8 L374.0,117.3 L376.1,113.9 L378.1,110.4 L380.2,107.0 L382.4,103.6 L384.6,100.2 L386.9,97.0 L389.4,93.9 L392.1,90.9 L394.8,87.9 L397.6,85.0 L400.5,82.2 L403.3,79.3 L406.2,76.4 L409.0,73.5 L411.9,70.7 L414.9,68.0 L418.0,65.6 L421.4,63.4 L424.9,61.4 L428.6,59.8 L432.4,58.7 L436.3,57.8 L440.3,57.0 L444.2,56.2 L448.2,55.4 L452.1,54.6 L456.1,54.0 L460.1,53.4 L464.1,53.0 L468.1,52.7 L472.1,52.3 L476.1,52.0 L480.1,51.7 L484.1,51.4 L488.1,51.1 L492.1,50.8 L496.1,50.6 L500.1,50.3 L504.1,50.0 L508.1,49.8 L512.2,49.5 L516.2,49.2 L520.2,49.0 L524.2,48.7 L528.2,48.5" stroke="#00ffff"/>
<path d="M212.0,1177.5 L212.3,1173.4 L213.2,1169.6 L215.0,1166.0 L216.7,1162.3 L218.3,1158.6 L219.7,1154.8 L220.8,1151.0 L221.8,1147.1 L222.6,1143.2 L223.4,1139.2 L224.2,1135.2 L224.9,1131.3 L225.8,1127.4 L226.6,1123.4 L227.5,1119.5 L228.3,1115.6 L229.2,1111.6 L230.1,1107.7 L230.9,1103.8 L231.8,1099.9 L232.7,1095.9 L233.6,1092.0 L234.4,1088.1 L235.3,1084.1 L236.2,1080.2 L237.1,1076.3 L238.1,1072.4 L239.0,1068.5 L239.9,1064.5 L240.8,1060.6 L241.7,1056.7 L242.5,1052.8 L243.4,1048.8 L244.2,1044.9 L244.9,1040.9 L245.6,1037.0 L246.3,1033.0 L247.0,1029.1 L247.7,1025.1 L248.3,1021.1 L248.9,1017.1 L249.5,1013.2 L250.1,1009.2 L250.7,1005.2 L251.3,1001.2 L251.9,997.2 L252.5,993.3 L253.1,989.3 L253.7,985.3 L254.3,981.3 L255.0,977.4 L255.6,973.4 L256.2,969.4 L256.8,965.4 L257.4,961.5 L258.0,957.5 L258.6,953.5 L259.2,949.5 L259.7,945.5 L260.3,941.5 L260.8,937.6 L261.3,933.6 L261.8,929.6 L262.3,925.6 L262.8,921.6 L263.3,917.6 L263.8,913.6 L264.3,909.6 L264.7,905.6 L265.2,901.6 L265.7,897.6 L266.2,893.6 L266.6,889.6 L267.1,885.6 L267.7,881.6 L268.2,877.7 L268.7,873.7 L269.2,869.7 L269.7,865.7 L270.2,861.7 L270.7,857.7 L271.2,853.7 L271.7,849.7 L272.2,845.7 L272.7,841.7 L273.2,837.7 L273.6,833.7 L274.1,829.7 L274.5,825.7 L274.9,821.7 L275.4,817.7 L275.8,813.7 L276.2,809.7 L276.6,805.7 L277.0,801.7 L277.5,797.7 L277.9,793.7 L278.3,789.7 L278.8,785.7 L279.2,781.7 L279.6,777.7 L280.1,773.7 L280.5,769.7 L281.0,765.7 L281.4,761.7 L281.8,757.7 L282.3,753.7 L282.7,749.7 L283.1,745.7 L283.5,741.7 L283.9,737.7 L284.3,733.7 L284.7,729.7 L285.1,725.7 L285.5,721.7 L285.9,717.7 L286.3,713.7 L286.7,709.7 L287.1,705.7 L287.5,701.7 L287.9,697.7 L288.2,693.7 L288.6,689.7 L289.0,685.7 L289.4,681.7 L289.8,677.7 L290.2,673.7 L290.6,669.7 L291.0,665.7 L291.4,661.7 L291.8,657.7 L292.2,653.7 L292.6,649.7 L293.0,645.6 L293.4,641.6 L293.7,637.6 L294.1,633.6 L294.4,629.6 L294.7,625.6 L295.0,621.6 L295.3,617.6 L295.6,613.6 L295.9,609.6 L296.3,605.5 L296.6,601.5 L296.9,597.5 L297.3,593.5 L297.6,589.5 L298.0,585.5 L298.4,581.5 L298.9,577.5 L299.3,573.5 L299.8,569.5 L300.2,565.5 L300.7,561.5 L301.2,557.5 L301.6,553.5 L302.0,549.5 L302.5,545.5 L302.9,541.5 L303.2,537.5 L303.6,533.5 L303.9,529.5 L304.2,525.5 L304.5,521.5 L304.9,517.5 L305.2,513.5 L305.5,509.4 L305.9,505.4 L306.3,501.4 L306.6,497.4 L307.0,493.4 L307.4,489.4 L307.8,485.4 L308.1,481.4 L308.5,477.4 L308.9,473.4 L309.3,469.4 L309.7,465.4 L310.1,461.4 L310.5,457.4 L310.9,453.4 L311.4,449.4 L311.8,445.4 L312.2,441.4 L312.7,437.4 L313.1,433.4 L313.6,429.4 L314.0,425.4 L314.5,421.4 L315.0,417.4 L315.4,413.4 L315.9,409.4 L316.4,405.4 L316.8,401.4 L317.3,397.4 L317.8,393.4 L318.3,389.4 L318.7,385.4 L319.2,381.4 L319.7,377.4 L320.2,373.5 L320.7,369.5 L321.2,365.5 L321.7,361.5 L322.2,357.5 L322.7,353.5 L323.2,349.5 L323.7,345.5 L324.2,341.5 L324.7,337.5 L325.2,333.5 L325.7,329.5 L326.2,325.5 L326.7,321.6 L327.2,317.6 L327.7,313.6 L328.2,309.6 L328.7,305.6 L329.3,301.6 L329.8,297.6 L330.4,293.6 L330.9,289.6 L331.5,285.7 L332.0,281.7 L332.6,277.7 L333.2,273.7 L333.7,269.7 L334.3,265.7 L334.9,261.8 L335.6,257.8 L336.2,253.8 L336.8,249.9 L337.5,245.9 L338.2,241.9 L338.9,238.0 L339.7,234.0 L340.4,230.1 L341.2,226.1 L341.9,222.2 L342.6,218.2 L343.3,214.2 L344.0,210.3 L344.7,206.3 L345.5,202.4 L346.2,198.4 L347.0,194.5 L347.9,190.5 L348.7,186.6 L349.5,182.7 L350.3,178.7 L351.0,174.7 L351.7,170.8 L352.4,166.8 L353.2,162.9 L354.2,159.0 L355.3,155.1 L356.5,151.3 L357.8,147.5 L359.1,143.7 L360.4,139.8 L361.6,136.0 L362.9,132.2 L364.1,128.4 L365.5,124.6 L366.9,120.8 L368.4,117.1 L370.0,113.4 L371.6,109.7 L373.1,106.0 L374.6,102.2 L376.1,98.5 L377.6,94.7 L379.2,91.0 L380.9,87.4 L382.8,83.8 L384.7,80.3 L386.9,76.9 L389.4,73.8 L392.1,70.9 L395.1,68.1 L398.3,65.5 L401.5,63.1 L404.8,60.8 L408.3,58.8 L411.9,57.0 L415.6,55.5 L419.4,54.1 L423.3,52.9 L427.2,52.0 L431.1,51.2 L435.1,50.5 L439.1,49.9 L443.1,49.5 L447.1,49.1 L451.1,48.7 L455.1,48.4 L459.1,48.2 L463.1,48.1 L467.2,48.0 L471.2,47.9 L475.2,47.9" stroke="#ffff00"/>
</g>
<g id="labels" font-family="'Liberation Serif', 'Times New Roman', serif" font-weight="bold">
<text transform="translate(181.6,1197.2) scale(1,1.04)" text-anchor="end" font-size="64.5" fill="#404040">0</text>
<text transform="translate(181.6,971.9) scale(1,1.04)" text-anchor="end" font-size="64.5" fill="#404040">0.2</text>
<text transform="translate(181.6,746.7) scale(1,1.04)" text-anchor="end" font-size="64.5" fill="#404040">0.4</text>
<text transform="translate(181.6,521.5) scale(1,1.04)" text-anchor="end" font-size="64.5" fill="#404040">0.6</text>
<text transform="translate(181.6,296.3) scale(1,1.04)" text-anchor="end" font-size="64.5" fill="#404040">0.8</text>
<text transform="translate(181.6,71.0) scale(1,1.04)" text-anchor="end" font-size="64.5" fill="#404040">1</text>
<text transform="translate(208.1,1259.4) scale(1,1.04)" text-anchor="middle" font-size="64.5" fill="#404040">0</text>
<text transform="translate(453.3,1259.4) scale(1,1.04)" text-anchor="middle" font-size="64.5" fill="#404040">1</text>
<text transform="translate(698.5,1259.4) scale(1,1.04)" text-anchor="middle" font-size="64.5" fill="#404040">2</text>
<text transform="translate(943.8,1259.4) scale(1,1.04)" text-anchor="middle" font-size="64.5" fill="#404040">3</text>
<text transform="translate(1189.0,1259.4) scale(1,1.04)" text-anchor="middle" font-size="64.5" fill="#404040">4</text>
<text transform="translate(1434.2,1259.4) scale(1,1.04)" text-anchor="middle" font-size="64.5" fill="#404040">5</text>
<text transform="translate(821,1345.7) scale(1,1.015)" text-anchor="middle" font-size="72" fill="#404040">Error(m)</text>
<text transform="translate(67.1,611.4) rotate(-90) scale(1,1.025)" text-anchor="middle" font-size="72" fill="#404040">CDF</text>
</g>
<defs><filter id="crisp" x="-2%" y="-10%" width="104%" height="120%" color-interpolation-filters="sRGB"><feComponentTransfer><feFuncA type="discrete" tableValues="0 1"/></feComponentTransfer></filter></defs>
<g id="legend" font-family="'Liberation Serif', 'Times New Roman', serif" font-weight="bold" shape-rendering="crispEdges">
<rect x="917" y="531" width="187" height="14" fill="#000000"/>
<text transform="translate(1119.9,558.6) scale(1.012,1)" font-size="64" fill="#000000" filter="url(#crisp)">Bancroft</text>
<rect x="917" y="620" width="187" height="13" fill="#0000ff"/>
<text transform="translate(1119.5,648.0) scale(1.02,1)" font-size="64" fill="#000000" filter="url(#crisp)">LS</text>
<rect x="917" y="708" width="187" height="14" fill="#00ff00"/>
<text transform="translate(1119.5,737.8) scale(1.016,1)" font-size="64" fill="#000000" filter="url(#crisp)">EKF</text>
<rect x="917" y="797" width="187" height="13" fill="#f9520b"/>
<text transform="translate(1117.4,828.0) scale(1.032,1)" font-size="64" fill="#000000" filter="url(#crisp)">UKF</text>
<rect x="917" y="885" width="187" height="13" fill="#ff00ff"/>
<text transform="translate(1118.4,912.8) scale(1.028,1)" font-size="64" fill="#000000" filter="url(#crisp)">CKF</text>
<rect x="917" y="973" width="187" height="14" fill="#00ffff"/>
<text transform="translate(1118.4,1002.8) scale(1.032,1)" font-size="64" fill="#000000" filter="url(#crisp)">PF</text>
<rect x="917" y="1062" width="187" height="13" fill="#ffff00"/>
<text transform="translate(1118.4,1091.8) scale(1.022,1)" font-size="64" fill="#000000" filter="url(#crisp)">RPF</text>
</g>
</svg>
</body>
</html>
